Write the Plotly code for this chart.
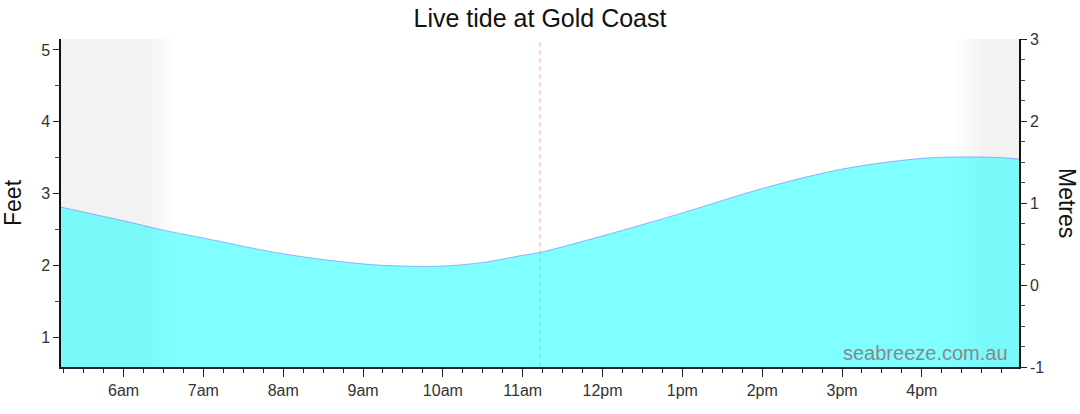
import plotly.graph_objects as go
from datetime import datetime

# ---- data ----
day = "2024-01-01"
times = ["05:13", "06:00", "06:30", "07:00", "08:00", "09:00", "09:30", "10:00", "10:30",
         "11:00", "11:13", "12:00", "13:00", "14:00", "15:00", "16:00", "16:30", "17:00", "17:13"]
tide_feet = [2.81, 2.62, 2.49, 2.38, 2.16, 2.02, 1.99, 1.99, 2.04,
             2.14, 2.18, 2.41, 2.73, 3.07, 3.34, 3.49, 3.51, 3.50, 3.48]
x_range = ["05:13", "17:13"]
now_time = "11:13"
hour_ticks = ["06:00", "07:00", "08:00", "09:00", "10:00", "11:00", "12:00",
              "13:00", "14:00", "15:00", "16:00"]
hour_labels = ["6am", "7am", "8am", "9am", "10am", "11am", "12pm", "1pm", "2pm", "3pm", "4pm"]
feet_ticks = [1, 2, 3, 4, 5]
metre_ticks = [-1, 0, 1, 2, 3]
metre_labels = ["-1", "0", "1", "2", "3"]
dawn_fade = ["06:20", "06:38"]
dusk_fade = ["16:25", "16:46"]

def ts(t):
    return f"{day} {t}"

def parse(t):
    return datetime.strptime(ts(t), "%Y-%m-%d %H:%M")

FONT = "Liberation Sans, Arial, sans-serif"

fig = go.Figure()
fig.add_trace(go.Scatter(
    x=[ts(t) for t in times], y=tide_feet,
    mode="lines", line=dict(color="rgba(70,70,255,0.4)", width=1, shape="spline", smoothing=1.0),
    fill="tozeroy", fillcolor="rgba(0,255,255,0.5)", hoverinfo="skip", showlegend=False))
fig.add_trace(go.Scatter(x=[ts(times[0])], y=[None], yaxis="y2", mode="lines",
                         showlegend=False, hoverinfo="skip"))

shapes = []
shapes.append(dict(type="rect", xref="x", yref="paper", x0=ts(x_range[0]), x1=ts(dawn_fade[0]),
                   y0=0, y1=1, fillcolor="rgb(242,242,242)", line_width=0, layer="below"))
n = 12
a0, a1 = parse(dawn_fade[0]), parse(dawn_fade[1])
step = (a1 - a0) / n
for i in range(n):
    op = 1 - (i + 0.5) / n
    shapes.append(dict(type="rect", xref="x", yref="paper", x0=a0 + step * i, x1=a0 + step * (i + 1),
                       y0=0, y1=1, fillcolor=f"rgba(242,242,242,{op:.3f})", line_width=0, layer="below"))
b0, b1 = parse(dusk_fade[0]), parse(dusk_fade[1])
step = (b1 - b0) / n
for i in range(n):
    op = (i + 0.5) / n
    shapes.append(dict(type="rect", xref="x", yref="paper", x0=b0 + step * i, x1=b0 + step * (i + 1),
                       y0=0, y1=1, fillcolor=f"rgba(242,242,242,{op:.3f})", line_width=0, layer="below"))
shapes.append(dict(type="rect", xref="x", yref="paper", x0=ts(dusk_fade[1]), x1=ts(x_range[1]),
                   y0=0, y1=1, fillcolor="rgb(242,242,242)", line_width=0, layer="below"))
shapes.append(dict(type="line", xref="x", yref="paper", x0=ts(now_time), x1=ts(now_time), y0=0, y1=1,
                   line=dict(color="rgba(220,80,80,0.4)", width=1, dash="5px,3px"), layer="below"))

fig.update_layout(
    width=1080, height=414,
    margin=dict(l=61, r=61, t=39, b=47),
    paper_bgcolor="white", plot_bgcolor="white",
    font=dict(family=FONT, color="#333", size=16),
    title=dict(text="Live tide at Gold Coast", x=0.5, xanchor="center", y=1 - 18 / 414,
               yanchor="middle", font=dict(family=FONT, size=25, color="#111")),
    shapes=shapes,
    xaxis=dict(type="date", range=[ts(x_range[0]), ts(x_range[1])],
               tickmode="array", tickvals=[ts(t) for t in hour_ticks], ticktext=hour_labels,
               ticks="outside", ticklen=8, tickcolor="#222", tickwidth=1,
               showline=True, linecolor="#1c2433", linewidth=1.5,
               showgrid=False, zeroline=False,
               tickfont=dict(size=16, color="#333"),
               minor=dict(ticks="outside", ticklen=4, tickcolor="#222", dtick=15 * 60 * 1000,
                          tick0=ts("05:00"), showgrid=False)),
    yaxis=dict(range=[0.583, 5.153], tickmode="array", tickvals=feet_ticks,
               ticks="outside", ticklen=6, tickcolor="#222",
               showline=True, linecolor="#111", linewidth=1.5,
               showgrid=False, zeroline=False, tickfont=dict(size=16, color="#333"),
               minor=dict(ticks="outside", ticklen=4, tickcolor="#444", dtick=0.5, tick0=0,
                          showgrid=False)),
    yaxis2=dict(range=[-1, 3], overlaying="y", side="right", tickmode="array",
                tickvals=metre_ticks, ticktext=metre_labels,
                ticks="outside", ticklen=6, tickcolor="#222",
                showline=True, linecolor="#111", linewidth=1.5,
                showgrid=False, zeroline=False, tickfont=dict(size=16, color="#333"),
                minor=dict(ticks="outside", ticklen=4, tickcolor="#444", dtick=0.25, tick0=0,
                           showgrid=False)),
    annotations=[
        dict(text="Feet", xref="paper", yref="paper", x=(13 - 61) / 958, y=0.5, showarrow=False,
             textangle=-90, font=dict(size=23, color="#111", family=FONT), xanchor="center", yanchor="middle"),
        dict(text="Metres", xref="paper", yref="paper", x=(1067 - 61) / 958, y=0.5, showarrow=False,
             textangle=90, font=dict(size=23, color="#111", family=FONT), xanchor="center", yanchor="middle"),
        dict(text="seabreeze.com.au", xref="paper", yref="paper", x=1, y=0, xanchor="right", yanchor="bottom",
             xshift=-9, yshift=1, showarrow=False, font=dict(size=20, color="#888", family=FONT)),
    ],
)

fig.write_html("out.html")
